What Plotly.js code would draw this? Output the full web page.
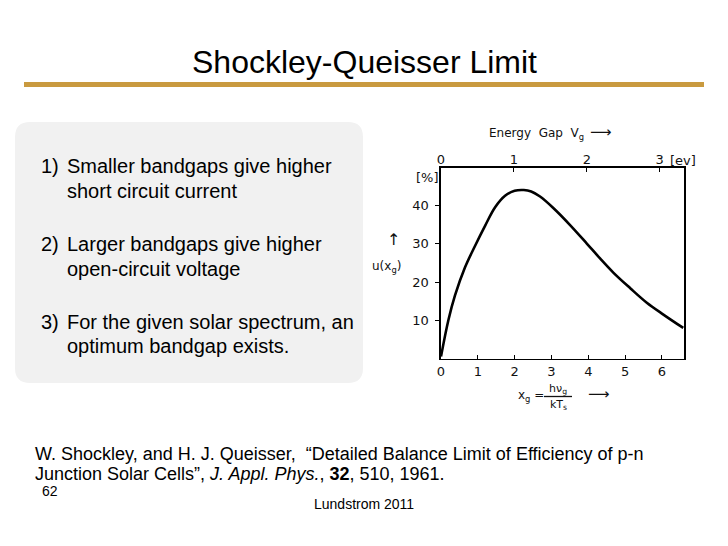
<!DOCTYPE html>
<html>
<head>
<meta charset="utf-8">
<script src="https://cdn.plot.ly/plotly-3.0.1.min.js"></script>
<style>
html,body{margin:0;padding:0;background:#fff;}
#chart{width:728px;height:546px;}
</style>
</head>
<body>
<div id="chart"></div>
<script>
// ---- data ----
const xg  = [0, 0.2, 0.38, 0.65, 0.92, 1.2, 1.47, 1.74, 2.0, 2.25, 2.45, 2.69, 3.05, 3.5, 3.96, 4.32, 4.68, 5.14, 5.59, 6.04, 6.58];
const eff = [0.5, 10.0, 16.5, 23.8, 29.4, 34.8, 39.6, 42.6, 43.9, 44.1, 43.7, 42.4, 39.4, 35.0, 30.1, 26.2, 22.5, 18.4, 14.6, 11.5, 8.0];
const xTicks  = [0, 1, 2, 3, 4, 5, 6];
const yTicks  = [10, 20, 30, 40];
const evTicks = [0, 1, 2, 3];
const bullets = ["1)", "2)", "3)"];
const bulletLines = [
  ["Smaller bandgaps give higher", "short circuit current"],
  ["Larger bandgaps give higher", "open-circuit voltage"],
  ["For the given solar spectrum, an", "optimum bandgap exists."]
];
const slideTitle = "Shockley-Queisser Limit";
const citation1 = "W. Shockley, and H. J. Queisser,  \u201cDetailed Balance Limit of Efficiency of p-n";
const citation2 = "Junction Solar Cells\u201d, <i>J. Appl. Phys.</i>, <b>32</b>, 510, 1961.";
const pageNo = "62";
const footer = "Lundstrom 2011";

// ---- layout helpers (page pixels -> paper) ----
const W = 728, H = 546;
const PX = p => p / W;
const PY = p => 1 - p / H;

const slideFont = "Liberation Sans, Arial, Helvetica, sans-serif";
const figFont = "DejaVu Sans, Verdana, sans-serif";

function ann(text, x, y, size, opts) {
  return Object.assign({
    text: text, x: PX(x), y: PY(y), xref: "paper", yref: "paper",
    showarrow: false, xanchor: "center", yanchor: "middle",
    font: {family: slideFont, size: size, color: "#000"}
  }, opts || {});
}

const annotations = [];
annotations.push(ann(slideTitle, 364, 62, 32));
// bullet list
const lineMid = [[166, 191], [244, 269], [322, 346]];
bullets.forEach((b, i) => {
  annotations.push(ann(b, 39, lineMid[i][0], 20, {xanchor: "left"}));
  bulletLines[i].forEach((t, j) => {
    annotations.push(ann(t, 65, lineMid[i][j], 20, {xanchor: "left"}));
  });
});
// citation / footer
annotations.push(ann(citation1, 33, 454, 18, {xanchor: "left"}));
annotations.push(ann(citation2, 33, 474, 18, {xanchor: "left"}));
annotations.push(ann(pageNo, 40, 491, 14, {xanchor: "left"}));
annotations.push(ann(footer, 364, 504, 14));

// figure labels
const ff = (s) => ({family: figFont, size: s, color: "#111"});
annotations.push(ann("Energy  Gap  V<sub>g</sub>", 536, 134, 12, {font: ff(12)}));
annotations.push(ann("\u27f6", 601, 132, 15, {font: ff(15)}));
annotations.push(ann("[ev]", 683, 160, 13, {font: ff(13)}));
annotations.push(ann("[%]", 427, 178, 13, {font: ff(13)}));
annotations.push(ann("u(x<sub>g</sub>)", 386, 267, 12, {font: ff(12)}));
annotations.push(ann("\u2191", 393, 239, 16, {font: ff(16)}));
annotations.push(ann("x<sub>g</sub> =", 531, 396, 12, {font: ff(12)}));
annotations.push(ann("h\u03bd<sub>g</sub>", 558, 389, 11, {font: ff(11)}));
annotations.push(ann("kT<sub>s</sub>", 558, 405, 11, {font: ff(11)}));
annotations.push(ann("\u27f6", 599, 394, 15, {font: ff(15)}));

// rounded grey box path
function roundRect(x0, y0, x1, y1, r) {
  const f = (x, y) => PX(x) + "," + PY(y);
  return "M" + f(x0 + r, y0) + " L" + f(x1 - r, y0) + " Q" + f(x1, y0) + " " + f(x1, y0 + r) +
    " L" + f(x1, y1 - r) + " Q" + f(x1, y1) + " " + f(x1 - r, y1) +
    " L" + f(x0 + r, y1) + " Q" + f(x0, y1) + " " + f(x0, y1 - r) +
    " L" + f(x0, y0 + r) + " Q" + f(x0, y0) + " " + f(x0 + r, y0) + " Z";
}

const shapes = [
  {type: "path", xref: "paper", yref: "paper", path: roundRect(15, 122, 363, 383, 15),
   fillcolor: "#f1f1f1", line: {width: 0}, layer: "below"},
  {type: "line", xref: "paper", yref: "paper", x0: PX(24), x1: PX(704), y0: PY(84.5), y1: PY(84.5),
   line: {color: "#c99a3f", width: 5}},
  {type: "line", xref: "paper", yref: "paper", x0: PX(544), x1: PX(572), y0: PY(396.5), y1: PY(396.5),
   line: {color: "#111", width: 1.3}}
];

const traces = [
  {x: xg, y: eff, type: "scatter", mode: "lines", line: {color: "#000", width: 2.6, shape: "spline", smoothing: 1.0},
   hoverinfo: "skip", showlegend: false},
  {x: evTicks, y: evTicks.map(() => null), xaxis: "x2", yaxis: "y", type: "scatter", mode: "markers",
   marker: {opacity: 0}, hoverinfo: "skip", showlegend: false}
];

const layout = {
  width: W, height: H, autosize: false,
  margin: {l: 0, r: 0, t: 0, b: 0},
  paper_bgcolor: "#fff", plot_bgcolor: "rgba(0,0,0,0)",
  showlegend: false,
  xaxis: {domain: [PX(441), PX(684)], range: [0, 6.6], tickvals: xTicks, ticktext: xTicks.map(String),
    showgrid: false, zeroline: false, showline: true, mirror: true, linecolor: "#000", linewidth: 1.6,
    ticks: "inside", ticklen: 4, tickcolor: "#000", tickfont: ff(13), anchor: "y", ticklabelstandoff: 0},
  xaxis2: {overlaying: "x", side: "top", anchor: "y", range: [0, 6.6 / 1.98], tickvals: evTicks,
    ticktext: evTicks.map(String), showgrid: false, zeroline: false, showline: false,
    ticks: "inside", ticklen: 4, tickcolor: "#000", tickfont: ff(13), ticklabelstandoff: 0},
  yaxis: {domain: [PY(358.5), PY(167.5)], range: [0, 50], tickvals: yTicks, ticktext: yTicks.map(String),
    showgrid: false, zeroline: false, showline: true, mirror: true, linecolor: "#000", linewidth: 1.6,
    ticks: "outside", ticklen: 4, tickcolor: "#000", tickfont: ff(13), ticklabelstandoff: 4},
  shapes: shapes,
  annotations: annotations
};

Plotly.newPlot("chart", traces, layout, {displayModeBar: false, staticPlot: true});
</script>
</body>
</html>
